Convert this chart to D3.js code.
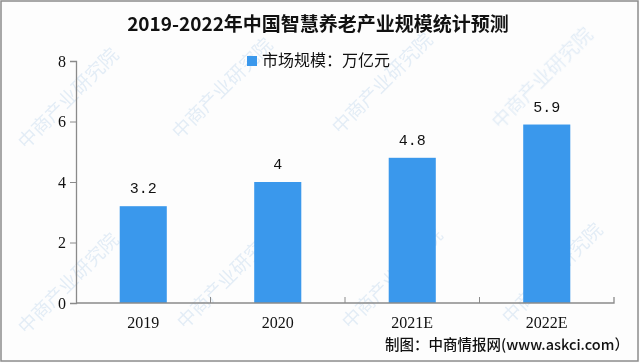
<!DOCTYPE html>
<html><head><meta charset="utf-8">
<script src="https://cdn.jsdelivr.net/npm/d3@7"></script>
<style>html,body{margin:0;padding:0;background:#fff;}svg{display:block;}</style>
</head><body>
<script>
const categories = ["2019", "2020", "2021E", "2022E"];
const values = [3.2, 4, 4.8, 5.9];
const valueLabels = ["3.2", "4", "4.8", "5.9"];
const yTicks = [0, 2, 4, 6, 8];
const title = "2019-2022年中国智慧养老产业规模统计预测";
const seriesName = "市场规模：万亿元";
const source = "制图：中商情报网(www.askci.com）";

const W = 640, H = 363;
const svg = d3.select("body").append("svg").attr("width", W).attr("height", H);
svg.append("rect").attr("x",0).attr("y",0).attr("width",W).attr("height",H).attr("fill","#fdfdfd");
svg.append("rect").attr("x",1).attr("y",1).attr("width",W-3).attr("height",H-3)
  .attr("fill","none").attr("stroke","#8c8c8c").attr("stroke-width",1.5);

// watermarks (kept inside the frame)
const wm = svg.append("g").attr("fill","#a9c9e8").attr("opacity",0.3)
  .attr("font-family","'Noto Sans CJK SC'").attr("font-size",19);
const wmPos = [[26,150],[180,140],[340,135],[500,130],[26,335],[185,330],[350,330],[510,325]];
wmPos.forEach(p => wm.append("text").attr("transform",`translate(${p[0]},${p[1]}) rotate(-45)`).text("中商产业研究院"));

const x = d3.scaleBand().domain(categories).range([76, 614]).paddingInner(0.65).paddingOuter(0.325);
const y = d3.scaleLinear().domain([0, 8]).range([303, 61]);

// bars
svg.append("g").selectAll("rect").data(values).join("rect")
  .attr("x",(d,i)=>x(categories[i])).attr("y",d=>y(d))
  .attr("width",x.bandwidth()).attr("height",d=>y(0)-y(d))
  .attr("fill","#3a98ec");

// value labels
svg.append("g").selectAll("text").data(values).join("text")
  .attr("x",(d,i)=>x(categories[i])+x.bandwidth()/2).attr("y",d=>y(d)-13)
  .attr("text-anchor","middle").attr("font-family","'Liberation Mono', 'DejaVu Sans Mono', monospace")
  .attr("font-size",15).attr("fill","#111").text((d,i)=>valueLabels[i]);

// y axis
const ya = svg.append("g").attr("transform","translate(76,0)")
  .call(d3.axisLeft(y).tickValues(yTicks).tickSize(6).tickPadding(4).tickFormat(d3.format("d")));
ya.select(".domain").attr("stroke","#8a8a8a").attr("stroke-width",1.3);
ya.selectAll(".tick line").attr("stroke","#8a8a8a");
ya.selectAll(".tick text").attr("font-family","'Liberation Serif', serif").attr("font-size",16).attr("fill","#111");

// x axis
const xa = svg.append("g").attr("transform","translate(0,303)")
  .call(d3.axisBottom(x).tickSize(0).tickPadding(14));
xa.select(".domain").attr("stroke","#8a8a8a").attr("stroke-width",1.3).attr("d","M76,0H614V-6");
xa.selectAll(".tick text").attr("font-family","'Liberation Serif', serif").attr("font-size",16).attr("fill","#111");
const seps = categories.slice(1).map(c => x(c) - x.step()*x.paddingInner()/2);
xa.append("g").selectAll("line").data(seps).join("line")
  .attr("x1",d=>d).attr("x2",d=>d).attr("y1",0).attr("y2",-6).attr("stroke","#8a8a8a");

// title
svg.append("text").attr("x",318).attr("y",31).attr("text-anchor","middle")
  .attr("font-family","'Noto Sans CJK SC', sans-serif").attr("font-weight","bold")
  .attr("font-size",19).attr("fill","#111").text(title);

// legend
svg.append("rect").attr("x",247).attr("y",56).attr("width",10).attr("height",10).attr("fill","#3a98ec");
svg.append("text").attr("x",262).attr("y",66).attr("font-family","'Noto Sans CJK SC', sans-serif")
  .attr("font-size",16).attr("fill","#111").text(seriesName);

// source
svg.append("text").attr("x",385).attr("y",350).attr("font-family","'Noto Sans CJK SC', sans-serif")
  .attr("font-size",14.5).attr("font-weight","500").attr("fill","#111").text(source);
</script>
</body></html>
